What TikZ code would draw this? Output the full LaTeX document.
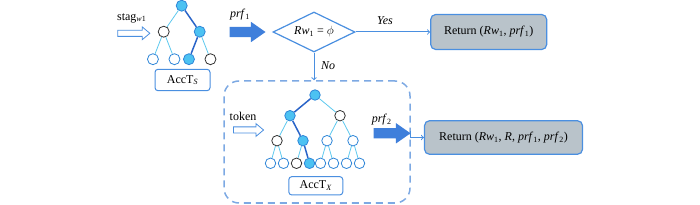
\documentclass[tikz,border=0pt]{standalone}
\usepackage{fontspec}
\setmainfont{Liberation Serif}
\usetikzlibrary{arrows,positioning,shapes.geometric,shapes.arrows}

\definecolor{lineblue}{HTML}{4A8FE0}
\definecolor{frameblue}{HTML}{7DA9E3}
\definecolor{arrowblue}{HTML}{3F7FDB}
\definecolor{nodeblue}{HTML}{2F86D8}
\definecolor{nodefill}{HTML}{4CC2F2}
\definecolor{edgecyan}{HTML}{5CC8EE}
\definecolor{pathblue}{HTML}{2A64C8}
\definecolor{boxgray}{HTML}{B9C3CA}

\begin{document}
\begin{tikzpicture}[
  x=1pt, y=-1pt,
  every node/.style={font=\fontsize{12}{14}\selectfont},
  treenode/.style={circle, line width=0.8pt, inner sep=0pt},
  pathnode/.style={treenode, draw=nodeblue, fill=nodefill},
  copath/.style={treenode, draw=black!80, fill=white},
  idle/.style={treenode, draw=nodeblue, fill=white},
  edge from parent/.style={draw=edgecyan, line width=0.8pt},
  hot/.style={draw=pathblue, line width=1.5pt},
  flow/.style={draw=lineblue, line width=1pt, ->, >=to},
  bigarrow/.style={single arrow, fill=arrowblue, draw=none, inner xsep=0pt,
    inner ysep=5pt, minimum height=36pt, single arrow head extend=5pt,
    single arrow tip angle=70},
  hollowarrow/.style={single arrow, draw=lineblue, fill=white, line width=0.8pt,
    inner xsep=0pt, inner ysep=2.7pt, single arrow head extend=3.3pt,
    single arrow tip angle=80},
  accbox/.style={draw=lineblue, fill=white, line width=1pt, rounded corners=3pt, inner sep=1pt},
  retbox/.style={draw=lineblue, fill=boxgray, line width=1.2pt, rounded corners=5pt, inner sep=2pt},
  decision/.style={diamond, draw=lineblue, fill=white, line width=1.2pt, aspect=2,
    minimum width=82pt, minimum height=40pt, inner sep=1pt},
  framebox/.style={draw=frameblue, line width=1.5pt, dash pattern=on 7pt off 5pt,
    rounded corners=15pt}
]
\useasboundingbox (0,0) rectangle (700,205);

% tree of the sender
\begin{scope}[every node/.append style={minimum size=11pt},
  level 1/.style={level distance=26pt, sibling distance=36pt},
  level 2/.style={level distance=27.5pt, sibling distance=21.5pt}]
\node[pathnode] (sroot) at (181.7,5.7) {}
  child { node[copath] (s1) {}
    child { node[idle] (s11) {} }
    child { node[idle] (s12) {} }
  }
  child { node[pathnode] (s2) {}
    child { node[pathnode] (s21) {} edge from parent[hot] }
    child { node[copath] (s22) {} }
    edge from parent[hot]
  };
\end{scope}
\node[accbox, minimum width=55pt, minimum height=21.4pt] (accs) at (182.5,80) {AccT\textsubscript{\textit{S}}};

\node[hollowarrow, minimum height=32pt] (stagarrow) at (132,33.3) {};
\node (stag) at (131.7,18) {stag\textsubscript{\textit{w}1}};

\node[bigarrow] (prfarrow1) at (243.8,32) {};
\node (prf1) at (240,15) {\textit{prf}\textsubscript{1}};

\node[decision] (dia) at (314,32) {\textit{Rw}\textsubscript{1} = $\phi$};
\node[retbox, minimum width=116pt, minimum height=35pt] (ret1) at (488.7,32)
  {Return (\textit{Rw}\textsubscript{1}, \textit{prf}\textsubscript{1})};
\draw[flow] (dia.east) -- (ret1.west);
\node (yes) at (385,20.7) {\textit{Yes}};

% the dashed frame of the receiver
\node[framebox, minimum width=186pt, minimum height=122pt] (frame) at (317,142) {};
\draw[flow] (dia.south) -- (dia.south |- frame.north);
\node (no) at (328,65.7) {\textit{No}};

% tree of the receiver
\begin{scope}[every node/.append style={minimum size=10.5pt},
  level 1/.style={level distance=20.7pt, sibling distance=50pt},
  level 2/.style={level distance=25pt, sibling distance=26pt},
  level 3/.style={level distance=22.6pt, sibling distance=13pt}]
\node[pathnode] (xroot) at (315,95) {}
  child { node[pathnode] (x1) {}
    child { node[copath] (x11) {}
      child { node[idle] (x111) {} }
      child { node[idle] (x112) {} }
    }
    child { node[pathnode] (x12) {}
      child { node[copath] (x121) {} }
      child { node[pathnode] (x122) {} edge from parent[hot] }
      edge from parent[hot]
    }
    edge from parent[hot]
  }
  child { node[copath] (x2) {}
    child { node[idle] (x21) {}
      child { node[idle] (x211) {} }
      child { node[idle] (x212) {} }
    }
    child { node[idle] (x22) {}
      child { node[idle] (x221) {} }
      child { node[idle] (x222) {} }
    }
  };
\end{scope}
\node[accbox, minimum width=54pt, minimum height=18.3pt] (accx) at (315.8,185.8) {AccT\textsubscript{\textit{X}}};

\node[hollowarrow, minimum height=30pt] (tokenarrow) at (246.7,130) {};
\node (token) at (243,116.7) {token};

\node[bigarrow, minimum height=37pt] (prfarrow2) at (388.3,133.3) {};
\node (prf2) at (381.7,119.3) {\textit{prf}\textsubscript{2}};

\node[retbox, minimum width=158pt, minimum height=33.6pt] (ret2) at (503.5,137.5)
  {Return (\textit{Rw}\textsubscript{1}, \textit{R}, \textit{prf}\textsubscript{1}, \textit{prf}\textsubscript{2})};
\draw[flow] ([yshift=11pt]frame.east) |- (ret2.west);

\end{tikzpicture}
\end{document}
